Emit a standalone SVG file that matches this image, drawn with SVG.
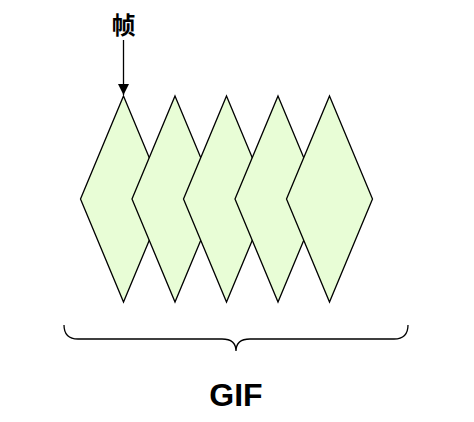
<svg xmlns="http://www.w3.org/2000/svg" width="474" height="422" viewBox="0 0 474 422">
<style>
.d{fill:#e8fdd6;stroke:#000;stroke-width:1.3;stroke-linejoin:miter}
.t{font-family:"Liberation Sans","Noto Sans CJK SC",sans-serif;font-weight:bold;fill:#000;text-anchor:middle}
.c{fill:none;stroke:#000;stroke-width:1.3}
</style>
<defs>
<marker id="ah" markerWidth="12" markerHeight="12" refX="11" refY="5.5" orient="auto" markerUnits="userSpaceOnUse">
<path d="M0,0 L11,5.5 L0,11 Z" fill="#000"/>
</marker>
</defs>
<rect width="474" height="422" fill="#fff"/>
<g id="frame1"><path class="d" d="M123.5,96 L166.5,199 L123.5,302 L80.5,199 Z"/></g>
<g id="frame2"><path class="d" d="M175,96 L218,199 L175,302 L132,199 Z"/></g>
<g id="frame3"><path class="d" d="M226.5,96 L269.5,199 L226.5,302 L183.5,199 Z"/></g>
<g id="frame4"><path class="d" d="M278,96 L321,199 L278,302 L235,199 Z"/></g>
<g id="frame5"><path class="d" d="M329.5,96 L372.5,199 L329.5,302 L286.5,199 Z"/></g>
<g id="label-frame"><text class="t" x="123.5" y="34" font-size="24">帧</text></g>
<g id="connectors">
<path class="c" d="M123.5,40 L123.5,95" marker-end="url(#ah)"/>
<path class="c" d="M64,325 Q64,339 78,339 L222,339 Q236,339 236,351 Q236,339 250,339 L394,339 Q408,339 408,325"/>
</g>
<g id="label-gif"><text class="t" x="236" y="406" font-size="32">GIF</text></g>
</svg>
